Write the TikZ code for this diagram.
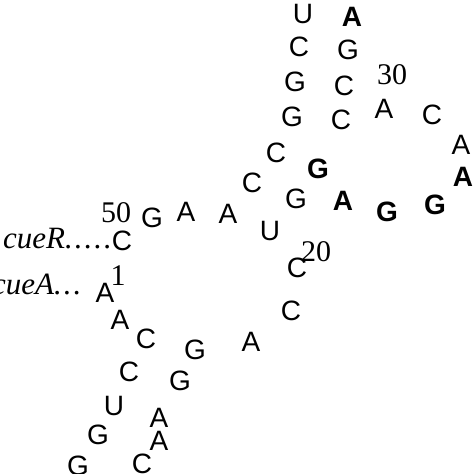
\documentclass[tikz,border=0pt]{standalone}
\usepackage{fontspec}
\setmainfont{Liberation Sans}
\newfontfamily\serifnum{Liberation Serif}
\tikzset{
  nt/.style={inner sep=0pt, font=\fontsize{28}{28}\selectfont},
  ntb/.style={inner sep=0pt, font=\fontsize{28}{28}\selectfont\bfseries},
  num/.style={inner sep=0pt, font=\fontsize{30}{30}\serifnum},
  lbl/.style={inner sep=0pt, anchor=west, font=\fontsize{31}{31}\serifnum\itshape}
}
\newcommand{\dt}{.\kern2pt}
\begin{document}
\begin{tikzpicture}[x=1pt,y=-1pt]
\useasboundingbox (0,0) rectangle (474,474);
% upper hairpin
\node[nt]  (n1)  at (303,14)  {U};
\node[ntb] (n2)  at (352,17)  {A};
\node[nt]  (n3)  at (299,47)  {C};
\node[nt]  (n4)  at (348,50)  {G};
\node[nt]  (n5)  at (295,82)  {G};
\node[nt]  (n6)  at (344,86)  {C};
\node[nt]  (n7)  at (292,117) {G};
\node[nt]  (n8)  at (341,120) {C};
\node[nt]  (n9)  at (384,109) {A};
\node[nt]  (n10) at (432,115) {C};
\node[nt]  (n11) at (461,145) {A};
\node[ntb] (n12) at (463,177) {A};
\node[ntb] (n13) at (435,205) {G};
\node[ntb] (n14) at (387,212) {G};
\node[ntb] (n15) at (343,201) {A};
\node[ntb] (n16) at (318,169) {G};
\node[nt]  (n17) at (296,199) {G};
\node[nt]  (n18) at (276,153) {C};
\node[nt]  (n19) at (252,183) {C};
\node[nt]  (n20) at (270,231) {U};
\node[nt]  (n21) at (297,268) {C};
% lower part
\node[nt]  (n22) at (291,311) {C};
\node[nt]  (n23) at (251,342) {A};
\node[nt]  (n24) at (195,350) {G};
\node[nt]  (n25) at (180,381) {G};
\node[nt]  (n26) at (159,418) {A};
\node[nt]  (n27) at (159,441) {A};
\node[nt]  (n28) at (142,464) {C};
\node[nt]  (n29) at (78,466)  {G};
\node[nt]  (n30) at (98,435)  {G};
\node[nt]  (n31) at (114,406) {U};
\node[nt]  (n32) at (129,372) {C};
\node[nt]  (n33) at (146,339) {C};
\node[nt]  (n34) at (120,320) {A};
\node[nt]  (n35) at (105,293) {A};
% left strand
\node[nt]  (n36) at (122,241) {C};
\node[nt]  (n37) at (152,218) {G};
\node[nt]  (n38) at (186,212) {A};
\node[nt]  (n39) at (228,214) {A};
% numbers
\node[num] (k50) at (116,213) {50};
\node[num] (k1)  at (118,276) {1};
\node[num] (k20) at (316,252) {20};
\node[num] (k30) at (392,75)  {30};
% labels
\node[lbl] (cueR) at (3,239)  {cueR\dt\dt\dt\dt.};
\node[lbl] (cueA) at (-8,284) {cueA\dt\dt.};
\end{tikzpicture}
\end{document}
